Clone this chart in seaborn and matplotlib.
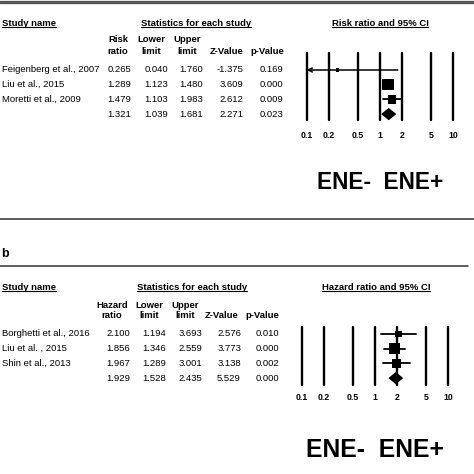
import numpy as np
import matplotlib.pyplot as plt
from matplotlib.lines import Line2D
import seaborn as sns

sns.set_theme(style="white")
plt.rcParams['font.family'] = ['Liberation Sans', 'DejaVu Sans']
plt.rcParams['text.color'] = 'black'

# ---- panel a data (risk ratio) ----
studies_a = ["Feigenberg et al., 2007", "Liu et al., 2015", "Moretti et al., 2009", ""]
ratio_a = [0.265, 1.289, 1.479, 1.321]
lower_a = [0.040, 1.123, 1.103, 1.039]
upper_a = [1.760, 1.480, 1.983, 1.681]
zval_a = [-1.375, 3.609, 2.612, 2.271]
pval_a = [0.169, 0.000, 0.009, 0.023]

# ---- panel b data (hazard ratio) ----
studies_b = ["Borghetti et al., 2016", "Liu et al. , 2015", "Shin et al., 2013", ""]
ratio_b = [2.100, 1.856, 1.967, 1.929]
lower_b = [1.194, 1.346, 1.289, 1.528]
upper_b = [3.693, 2.559, 3.001, 2.435]
zval_b = [2.576, 3.773, 3.138, 5.529]
pval_b = [0.010, 0.000, 0.002, 0.000]

ticks = [0.1, 0.2, 0.5, 1, 2, 5, 10]
tick_labels = ["0.1", "0.2", "0.5", "1", "2", "5", "10"]

W = H = 474
fig = plt.figure(figsize=(4.74, 4.74), dpi=100)
FS = 6.8


def fx(x):
    return x / W


def fy(y):
    return 1 - y / H


underlined = []


def draw_panel(studies, ratio, lower, upper, zval, pval, ratio_word, lay):
    # headers
    t = fig.text(fx(2), fy(lay['title']), "Study name", fontsize=FS, fontweight='bold', va='baseline')
    underlined.append(t)
    t = fig.text(fx(lay['stats_c']), fy(lay['title']), "Statistics for each study", fontsize=FS,
                 fontweight='bold', va='baseline', ha='center')
    underlined.append(t)
    t = fig.text(fx(lay['ci_c']), fy(lay['title']), ratio_word + " ratio and 95% CI", fontsize=FS,
                 fontweight='bold', va='baseline', ha='center')
    underlined.append(t)
    heads = [(ratio_word, "ratio"), ("Lower", "limit"), ("Upper", "limit"), ("", "Z-Value"), ("", "p-Value")]
    for (h1, h2), xc in zip(heads, lay['head_c']):
        fig.text(fx(xc), fy(lay['h1']), h1, fontsize=FS, fontweight='bold', ha='center', va='center')
        fig.text(fx(xc), fy(lay['h2']), h2, fontsize=FS, fontweight='bold', ha='center', va='center')

    # table rows
    for i in range(len(studies)):
        y = lay['row0'] + i * lay['step']
        fig.text(fx(2), fy(y), studies[i], fontsize=FS, va='center')
        cols = [f"{ratio[i]:.3f}", f"{lower[i]:.3f}", f"{upper[i]:.3f}", f"{zval[i]:.3f}", f"{pval[i]:.3f}"]
        for s, xr in zip(cols, lay['val_r']):
            fig.text(fx(xr), fy(y), s, fontsize=FS, va='center', ha='right')

    # forest axes
    ax = fig.add_axes([fx(lay['x01']), fy(lay['ybot']),
                       (lay['x10'] - lay['x01']) / W, (lay['ybot'] - lay['ytop']) / H])
    ax.set_xscale('log')
    ax.set_xlim(0.1, 10)
    ax.set_ylim((lay['ybot'] - lay['row0']) / lay['step'], (lay['ytop'] - lay['row0']) / lay['step'])
    ax.axis('off')
    for tk in ticks:
        ax.axvline(tk, color='black', lw=1.7, clip_on=False)
    ty = (lay['tick_y'] - lay['row0']) / lay['step']
    for tk, lab in zip(ticks, tick_labels):
        ax.text(tk, ty, lab, fontsize=6.3, fontweight='bold', ha='center', va='center')

    rows = np.arange(len(studies) - 1)
    for i in rows:
        lo = max(lower[i], 0.1)
        if lower[i] < 0.1:
            ax.annotate('', xy=(lo, i), xytext=(upper[i], i),
                        arrowprops=dict(arrowstyle='->', lw=1.1, color='black', mutation_scale=7,
                                        shrinkA=0, shrinkB=0), annotation_clip=False)
        else:
            ax.plot([lo, upper[i]], [i, i], color='black', lw=1.3, clip_on=False)
    sns.scatterplot(x=ratio[:3], y=list(rows), marker='s', s=lay['sq'], color='black',
                    linewidth=0, ax=ax, clip_on=False, legend=False)
    # pooled diamond
    k = len(studies) - 1
    h = lay['dia_h']
    ax.fill([lower[k], ratio[k], upper[k], ratio[k]], [k, k - h, k, k + h], color='black', lw=0,
            clip_on=False)
    ey = (lay['ene_y'] - lay['row0']) / lay['step']
    ax.text(1, ey, "ENE-  ENE+", fontsize=lay['ene_fs'], fontweight='bold', ha='center', va='center')
    return ax


lay_a = dict(title=25.5, stats_c=196, ci_c=380, h1=40, h2=52, head_c=[118, 151, 187, 227, 267],
             row0=70, step=14.7, val_r=[131, 168, 203, 243, 283],
             x01=306.7, x10=453, ytop=53, ybot=120, tick_y=135,
             sq=[5, 66, 36], dia_h=0.42, ene_y=183, ene_fs=16.3)
lay_b = dict(title=290, stats_c=192, ci_c=376, h1=305, h2=316, head_c=[112, 149, 185, 222, 262],
             row0=334, step=14.7, val_r=[130, 166, 202, 241, 279],
             x01=302, x10=448, ytop=327, ybot=385, tick_y=398,
             sq=[24, 66, 44], dia_h=0.42, ene_y=450, ene_fs=17.8)

draw_panel(studies_a, ratio_a, lower_a, upper_a, zval_a, pval_a, "Risk", lay_a)
draw_panel(studies_b, ratio_b, lower_b, upper_b, zval_b, pval_b, "Hazard", lay_b)

# panel label and separators
fig.text(fx(1), fy(254), "b", fontsize=9, fontweight='bold', va='center')
fig.add_artist(Line2D([0, 1], [fy(1.5), fy(1.5)], color='#555555', lw=2.4))
fig.add_artist(Line2D([0, 1], [fy(219), fy(219)], color='#333333', lw=1.1))
fig.add_artist(Line2D([0, fx(468)], [fy(265.5), fy(265.5)], color='#333333', lw=1.1))

# underline headers
fig.canvas.draw()
inv = fig.transFigure.inverted()
for t in underlined:
    bb = t.get_window_extent()
    x0, _ = inv.transform((bb.x0, 0))
    x1, _ = inv.transform((bb.x1, 0))
    yb = t.get_position()[1] - 1.4 / H
    fig.add_artist(Line2D([x0, x1], [yb, yb], color='black', lw=0.8))

fig.savefig("out.png", dpi=100)
